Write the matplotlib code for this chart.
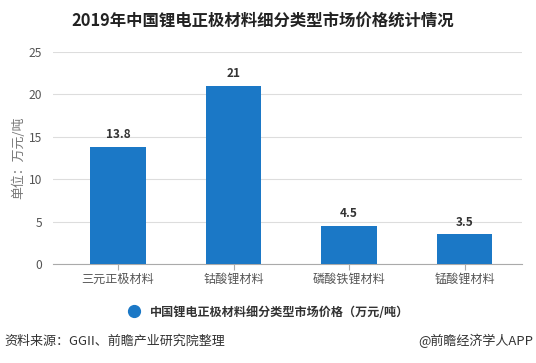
import matplotlib.pyplot as plt
from matplotlib.lines import Line2D

plt.rcParams['font.family'] = ['Noto Sans CJK SC', 'DejaVu Sans']

# Data
categories = ["三元正极材料", "钴酸锂材料", "磷酸铁锂材料", "锰酸锂材料"]
prices = [13.8, 21, 4.5, 3.5]
price_labels = ["13.8", "21", "4.5", "3.5"]
yticks = [0, 5, 10, 15, 20, 25]

bar_color = '#1b78c6'

fig = plt.figure(figsize=(5.36, 3.63), dpi=100)
ax = fig.add_axes([0.099, 0.2727, 0.875, 0.584])

x = range(len(categories))
ax.bar(x, prices, width=0.48, color=bar_color, zorder=3)
for xi, v, lab in zip(x, prices, price_labels):
    ax.text(xi, v + 1.45, lab, ha='center', va='center', fontsize=8.5,
            fontweight='bold', color='#333333')

ax.set_xlim(-0.563, 3.498)
ax.set_ylim(0, 25)
ax.set_yticks(yticks)
ax.set_xticks(list(x))
ax.set_xticklabels(categories, fontsize=8.7, color='#555555')
ax.tick_params(axis='y', length=0, labelsize=8.7, labelcolor='#555555', pad=8)
ax.tick_params(axis='x', length=4, color='#aaaaaa', pad=2)
ax.grid(axis='y', color='#dddddd', linewidth=0.8, zorder=0)
for s in ['top', 'right', 'left']:
    ax.spines[s].set_visible(False)
ax.spines['bottom'].set_color('#aaaaaa')
ax.set_ylabel("单位：万元/吨", fontsize=9.3, color='#777777', labelpad=2)

fig.text(0.49, 0.943, "2019年中国锂电正极材料细分类型市场价格统计情况",
         ha='center', va='center', fontsize=11.8, fontweight='bold', color='#222222')

# legend
handle = Line2D([], [], marker='o', linestyle='none', markersize=8.5,
                markerfacecolor=bar_color, markeredgecolor=bar_color)
fig.legend([handle], ["中国锂电正极材料细分类型市场价格（万元/吨）"],
           loc='center', bbox_to_anchor=(0.495, 0.14), frameon=False,
           prop={'size': 8.7, 'weight': 'bold'}, handletextpad=0.3,
           labelcolor='#333333')

fig.text(0.008, 0.06, "资料来源：GGII、前瞻产业研究院整理", ha='left', va='center',
         fontsize=9.4, color='#333333')
fig.text(0.995, 0.06, "@前瞻经济学人APP", ha='right', va='center',
         fontsize=9.4, color='#333333')

fig.savefig("out.png", dpi=100)
